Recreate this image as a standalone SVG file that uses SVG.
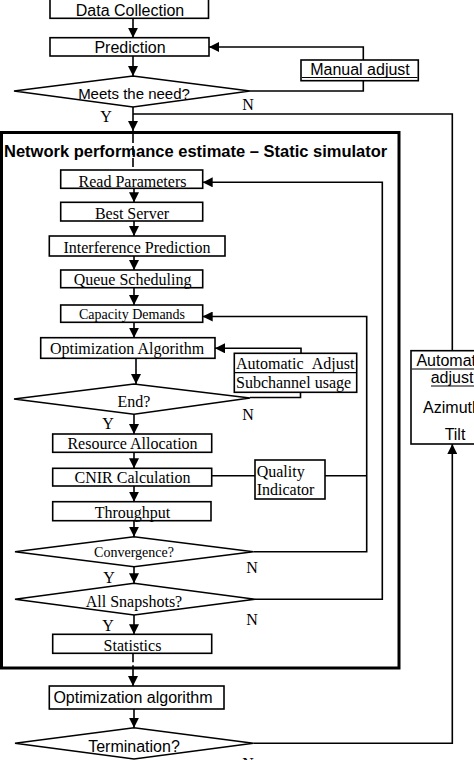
<svg xmlns="http://www.w3.org/2000/svg" width="474" height="760" viewBox="0 0 474 760">
<style>
.box{fill:#fff;stroke:#000;stroke-width:1.6}
.dia{fill:#fff;stroke:#000;stroke-width:1.6}
.cont{fill:none;stroke:#000;stroke-width:3}
.a{font-family:"Liberation Sans",Arial,sans-serif;font-size:16px;fill:#000}
.t{font-family:"Liberation Serif","Times New Roman",serif;font-size:16px;fill:#000}
.t14{font-family:"Liberation Serif","Times New Roman",serif;font-size:14px;fill:#000}
.ttl{font-family:"Liberation Sans",Arial,sans-serif;font-size:16.5px;font-weight:bold;fill:#000}
.c{text-anchor:middle}
.ln{fill:none;stroke:#000;stroke-width:1.6}
.ar{marker-end:url(#arr)}
.dash{stroke-dasharray:9 3}
</style>
<defs>
<marker id="arr" viewBox="0 0 10 10" refX="10" refY="5" markerWidth="10" markerHeight="10" markerUnits="userSpaceOnUse" orient="auto">
<path d="M0,0 L10,5 L0,10 z" fill="#000"/>
</marker>
</defs>
<rect width="474" height="760" fill="#fff"/>

<g id="container">
<rect class="cont" x="1.5" y="132.5" width="397.5" height="535.5"/>
<text class="ttl" x="4" y="157">Network performance estimate – Static simulator</text>
</g>

<g id="data-collection">
<rect class="box" x="50" y="-4" width="158.5" height="22.3"/>
<text class="a c" x="130" y="16">Data Collection</text>
</g>
<g id="prediction">
<rect class="box" x="50" y="37.7" width="159" height="18.3"/>
<text class="a c" x="130" y="53">Prediction</text>
</g>
<g id="manual-adjust">
<rect class="box" x="301" y="60" width="117.3" height="20.7"/>
<line x1="302" y1="77.5" x2="417.5" y2="77.5" stroke="#000" stroke-width="1.2"/>
<text class="a c" x="360" y="75">Manual adjust</text>
</g>
<g id="meets-need">
<polygon class="dia" points="14,91 133,76 250,91 133,107"/>
<text class="a c" x="134" y="99" style="font-size:15px">Meets the need?</text>
</g>

<g id="read-parameters">
<rect class="box" x="60.7" y="170" width="142" height="18.3"/>
<text class="t c" x="132.5" y="186.5">Read Parameters</text>
</g>
<g id="best-server">
<rect class="box" x="60.7" y="202.3" width="142" height="18.7"/>
<text class="t c" x="132" y="219">Best Server</text>
</g>
<g id="interference-prediction">
<rect class="box" x="49.3" y="236" width="175.7" height="20"/>
<text class="t c" x="137" y="252.5">Interference Prediction</text>
</g>
<g id="queue-scheduling">
<rect class="box" x="60.7" y="270" width="142" height="17.7"/>
<text class="t c" x="132.5" y="285">Queue Scheduling</text>
</g>
<g id="capacity-demands">
<rect class="box" x="60.7" y="305" width="142" height="17.3"/>
<text class="t14 c" x="132" y="318.5">Capacity Demands</text>
</g>
<g id="optimization-algorithm-inner">
<rect class="box" x="40.7" y="337.7" width="174.3" height="20.6"/>
<text class="t c" x="127" y="354.3">Optimization Algorithm</text>
</g>
<g id="automatic-adjust-subchannel">
<rect class="box" x="234.3" y="353.3" width="122.4" height="39"/>
<line x1="235" y1="372.7" x2="356" y2="372.7" stroke="#000" stroke-width="1.2"/>
<text class="t" x="236" y="369.3" style="word-spacing:5px">Automatic Adjust</text>
<text class="t" x="236" y="388.3">Subchannel usage</text>
</g>
<g id="end">
<polygon class="dia" points="14,399 134,384 250,398 134,414.3"/>
<text class="t c" x="134" y="407.3">End?</text>
</g>
<g id="resource-allocation">
<rect class="box" x="52.7" y="434" width="159" height="18.3"/>
<text class="t c" x="132.5" y="449">Resource Allocation</text>
</g>
<g id="cnir-calculation">
<rect class="box" x="52.7" y="468.3" width="159" height="17.7"/>
<text class="t c" x="132.5" y="483.3">CNIR Calculation</text>
</g>
<g id="quality-indicator">
<rect class="box" x="255" y="460" width="70" height="39"/>
<text class="t" x="256.7" y="476.7">Quality</text>
<text class="t" x="256.7" y="495">Indicator</text>
</g>
<g id="throughput">
<rect class="box" x="52.7" y="501.7" width="158.3" height="19"/>
<text class="t c" x="132.5" y="518.3">Throughput</text>
</g>
<g id="convergence">
<polygon class="dia" points="15,551.7 134,536.7 253.3,551.7 134,566.7"/>
<text class="t14 c" x="134" y="557.3">Convergence?</text>
</g>
<g id="all-snapshots">
<polygon class="dia" points="15,599.3 134,583.3 255,599.3 134,615"/>
<text class="t c" x="134" y="606.7">All Snapshots?</text>
</g>
<g id="statistics">
<rect class="box" x="52.7" y="634.3" width="159" height="19"/>
<text class="t c" x="132.5" y="650.7">Statistics</text>
</g>

<g id="optimization-algorithm">
<rect class="box" x="49.3" y="686" width="174.7" height="23"/>
<text class="a c" x="133" y="703.3">Optimization algorithm</text>
</g>
<g id="termination">
<polygon class="dia" points="15,743.3 134,727.7 253.3,743.3 134,759"/>
<text class="a c" x="134" y="751.7">Termination?</text>
</g>
<g id="automatic-adjust">
<rect class="box" x="411" y="350.7" width="82" height="93.3"/>
<text class="a c" x="452" y="366">Automatic</text>
<line x1="412" y1="369" x2="474" y2="369" stroke="#000" stroke-width="1.2"/>
<text class="a c" x="452" y="383">adjust</text>
<line x1="431" y1="386" x2="474" y2="386" stroke="#000" stroke-width="1.2"/>
<text class="a c" x="452" y="413">Azimuth</text>
<text class="a c" x="455" y="440">Tilt</text>
</g>

<g id="connectors">
<path class="ln ar" d="M133,18.3 V37.7"/>
<path class="ln ar" d="M133,56 V76"/>
<path class="ln" d="M250,91 H363.3 V80.7"/>
<path class="ln ar" d="M363.3,60 V47 H209"/>
<path class="ln ar" d="M133,107 V131"/>
<path class="ln dash" d="M133,134 V170"/>
<path class="ln ar" d="M253.3,743.3 H452.3 V444"/>
<path class="ln" d="M452.3,350.7 V114 H133"/>
<path class="ln ar" d="M134,188.3 V202.3"/>
<path class="ln ar" d="M134,221 V236"/>
<path class="ln ar" d="M134,256 V270"/>
<path class="ln ar" d="M134,287.7 V305"/>
<path class="ln ar" d="M134,322.3 V337.7"/>
<path class="ln ar" d="M136,358.3 V384"/>
<path class="ln ar" d="M301,353.3 V348.3 H215"/>
<path class="ln" d="M250,397.5 H300.5 V392.3"/>
<path class="ln ar" d="M134,414.3 V434"/>
<path class="ln ar" d="M134,452.3 V468.3"/>
<path class="ln" d="M211.7,475.7 H255"/>
<path class="ln" d="M325,475.7 H366.7"/>
<path class="ln ar" d="M134,486 V501.7"/>
<path class="ln ar" d="M134,520.7 V536.7"/>
<path class="ln ar" d="M253.3,551.7 H366.7 V316.5 H202.7"/>
<path class="ln ar" d="M134,566.7 V583.3"/>
<path class="ln ar" d="M255,599.3 H382.3 V182.3 H202.7"/>
<path class="ln ar" d="M134,615 V634.3"/>
<path class="ln dash" d="M133,653.3 V667"/>
<path class="ln ar" d="M133,669 V686"/>
<path class="ln ar" d="M134,709 V727.7"/>
<text class="t c" x="248" y="110">N</text>
<text class="t c" x="106" y="122">Y</text>
<text class="t c" x="248" y="420">N</text>
<text class="t c" x="108" y="429">Y</text>
<text class="t c" x="252" y="573">N</text>
<text class="t c" x="109" y="582.7">Y</text>
<text class="t c" x="252" y="625">N</text>
<text class="t c" x="108" y="631">Y</text>
<text class="t c" x="248" y="769">N</text>
</g>
</svg>
